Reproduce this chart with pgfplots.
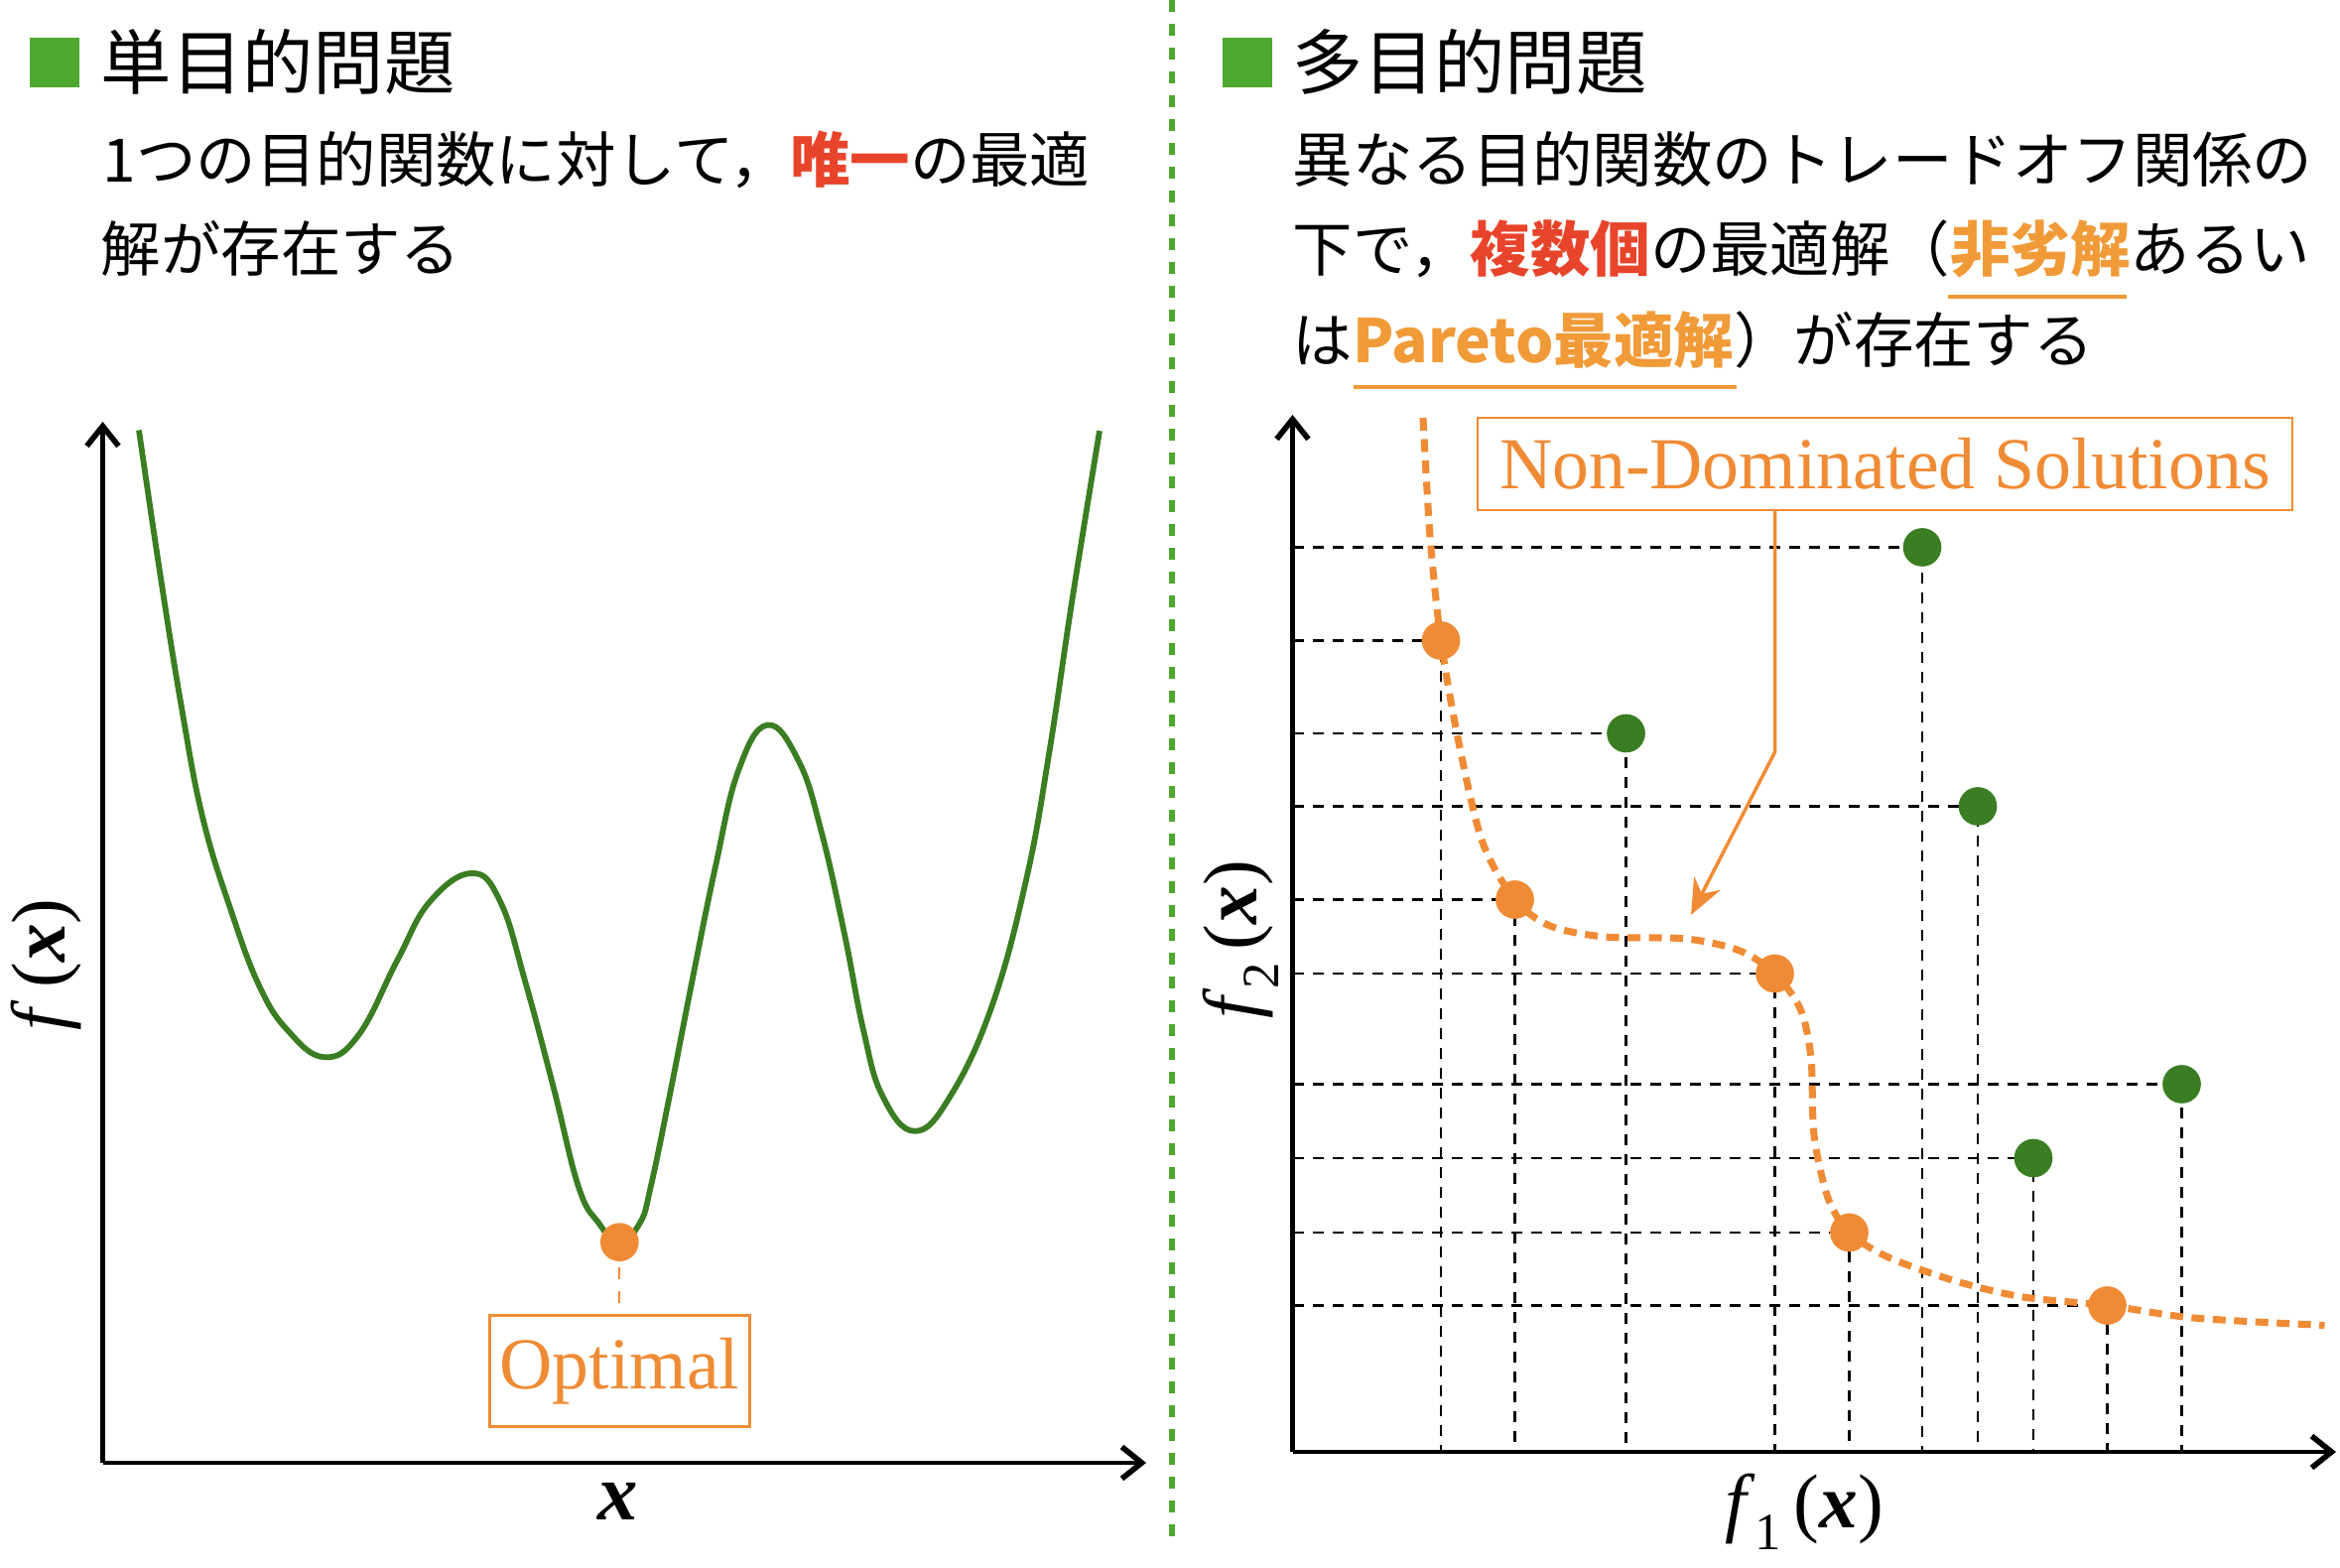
\documentclass[border=0pt]{standalone}
\usepackage{fontspec}
\setmainfont{Liberation Serif}
\newfontfamily\cjk{Noto Sans CJK JP}
\usepackage{pgfplots}
\pgfplotsset{compat=1.18}
\usetikzlibrary{arrows.meta}

\definecolor{curvegreen}{HTML}{3A7D22}
\definecolor{sqgreen}{HTML}{4EA72E}
\definecolor{dotorange}{HTML}{F08B35}
\definecolor{txtorange}{HTML}{F19A38}
\definecolor{hlred}{HTML}{E8442B}

\newcommand\hlr[1]{{\bfseries\color{hlred}#1}}
\newcommand\hlo[1]{{\bfseries\color{txtorange}#1}}

\pgfplotsset{
  panel/.style={
    scale only axis, width=10.515cm, xmin=0, xmax=1051.5, ymin=0,
    axis lines=left, xtick=\empty, ytick=\empty, clip=false,
    enlargelimits=false,
    axis line style={line width=1.35pt, -{Straight Barb[length=0.2cm, width=0.32cm, line width=1.6pt]}},
  },
  drop/.style={black, line width=0.7pt, dash pattern=on 0.11cm off 0.09cm},
  dot/.style={only marks, mark=*, mark size=5.3pt},
}

\begin{document}
\begin{tikzpicture}
\path[use as bounding box] (0,0) rectangle (23.58,15.80);

% separator
\draw[sqgreen, line width=1.7pt, dash pattern=on 0.12cm off 0.12cm] (11.81,15.80) -- (11.81,0.23);

% headings
\fill[sqgreen] (0.30,15.42) rectangle (0.80,14.92);
\fill[sqgreen] (12.32,15.42) rectangle (12.82,14.92);
\begin{scope}[every node/.style={anchor=base west, inner sep=0pt}]
\node[font={\cjk\fontsize{20.3pt}{24pt}\selectfont}] at (1.01,14.90) {単目的問題};
\node[font={\cjk\fontsize{20.3pt}{24pt}\selectfont}] at (13.02,14.90) {多目的問題};
\node[font={\cjk\fontsize{17.2pt}{20pt}\selectfont}] at (1.03,13.96) {1つの目的関数に対して，\hlr{唯一}の最適};
\node[font={\cjk\fontsize{17.2pt}{20pt}\selectfont}] at (1.01,13.06) {解が存在する};
\node[font={\cjk\fontsize{17.2pt}{20pt}\selectfont}] at (13.02,13.96) {異なる目的関数のトレードオフ関係の};
\node[font={\cjk\fontsize{17.2pt}{20pt}\selectfont}] at (13.02,13.06) {下で，\hlr{複数個}の最適解（\hlo{非劣解}あるい};
\node[font={\cjk\fontsize{17.2pt}{20pt}\selectfont}] at (13.02,12.14) {は\hlo{Pareto最適解}）が存在する};
\end{scope}
\draw[txtorange, line width=1pt] (19.63,12.81) -- (21.43,12.81);
\draw[txtorange, line width=1pt] (13.64,11.90) -- (17.50,11.90);

% left panel: single objective
\begin{axis}[panel, at={(1.035cm,1.06cm)}, anchor=south west,
    height=10.49cm, ymax=1049]
\addplot[curvegreen, line width=1.65pt, smooth, tension=0.7] coordinates {
  (36.5,1040.5) (57.9,895.4) (79.4,761.5) (100.8,649.9) (129.4,556.1)
  (157.9,480.2) (186.5,435.6) (222.9,408.8) (257.9,431.1) (297.2,507)
  (329.4,565.1) (372.2,594.1) (400.8,565.1) (425.8,484.7) (454.4,377.6)
  (479.5,278) (499.5,242) (520.5,222) (541.5,242) (552.2,278)
  (571.3,370) (594.3,487.3) (617.2,599.5) (640.2,696.4) (669.7,743.4)
  (701.5,706.7) (724.4,635.2) (747.4,533.2) (766.5,436.2) (785.6,370)
  (818.2,334.2) (854.5,370) (896.6,461.8) (931,589.3) (954,716.9)
  (977,869.9) (1004.5,1039.8)
};
\addplot[dotorange, line width=0.6pt, dash pattern=on 0.12cm off 0.12cm]
  coordinates {(520.8,197) (520.8,160)};
\addplot[dot, dotorange] coordinates {(520.8,222.3)};
\node[draw=dotorange, line width=0.7pt, text=dotorange, inner sep=0pt,
  minimum width=2.62cm, minimum height=1.12cm,
  font=\fontsize{21pt}{21pt}\selectfont] at (axis cs:521,92.3) {Optimal};
\end{axis}

% right panel: multi objective
\begin{axis}[panel, at={(13.025cm,1.17cm)}, anchor=south west,
    height=10.45cm, ymax=1045]
% drop lines to both axes
\addplot[drop] coordinates {(0,817.5) (149.5,817.5) (149.5,0)};
\addplot[drop] coordinates {(0,556.5) (224,556.5) (224,0)};
\addplot[drop] coordinates {(0,482) (486,482) (486,0)};
\addplot[drop] coordinates {(0,221) (561,221) (561,0)};
\addplot[drop] coordinates {(0,147.5) (821,147.5) (821,0)};
\addplot[drop] coordinates {(0,724) (336,724) (336,0)};
\addplot[drop] coordinates {(0,911.5) (634.5,911.5) (634.5,0)};
\addplot[drop] coordinates {(0,650.5) (690.5,650.5) (690.5,0)};
\addplot[drop] coordinates {(0,296) (746.5,296) (746.5,0)};
\addplot[drop] coordinates {(0,370.5) (896,370.5) (896,0)};
% Pareto front
\addplot[dotorange, line width=2pt, dash pattern=on 0.13cm off 0.085cm, smooth, tension=0.5] coordinates {
  (131.5,1042) (138.5,923) (149.5,817.5) (168,712) (191.5,614) (224,556.5)
  (259.5,530) (314.5,519) (396.5,517) (450.5,505) (486,482) (512,445.5)
  (522.5,396) (525.5,319) (539.5,256) (561,221) (600.5,196) (668.5,172)
  (736.5,156) (821,147.5) (907.5,135) (1040,127.5)
};
% solutions
\addplot[dot, curvegreen] coordinates {
  (336,724) (634.5,911.5) (690.5,650.5) (746.5,296) (896,370.5)
};
\addplot[dot, dotorange] coordinates {
  (149.5,817.5) (224,556.5) (486,482) (561,221) (821,147.5)
};
% callout
\addplot[dotorange, line width=1pt, -{Stealth[length=0.36cm, width=0.3cm, inset=0.12cm]}]
  coordinates {(486,949) (486,705) (401.5,541)};
\node[draw=dotorange, line width=0.7pt, text=dotorange, inner sep=0pt,
  minimum width=8.21cm, minimum height=0.93cm,
  font=\fontsize{21pt}{21pt}\selectfont] at (axis cs:597,995.5) {Non-Dominated Solutions};
\end{axis}

% axis labels
\node[font=\fontsize{23pt}{23pt}\selectfont] at (6.23,0.67) {\textbf{\textit{x}}};
\node[rotate=90, font=\fontsize{22pt}{22pt}\selectfont] at (0.47,6.08)
  {\textit{f}\,(\textbf{\textit{x}})};
\node[font=\fontsize{22pt}{22pt}\selectfont] at (18.18,0.57)
  {\textit{f}\raisebox{-0.28em}{\fontsize{15pt}{15pt}\selectfont 1}\,(\textbf{\textit{x}})};
\node[rotate=90, font=\fontsize{22pt}{22pt}\selectfont] at (12.50,6.33)
  {\textit{f}\raisebox{-0.28em}{\fontsize{15pt}{15pt}\selectfont 2}\,(\textbf{\textit{x}})};
\end{tikzpicture}
\end{document}
